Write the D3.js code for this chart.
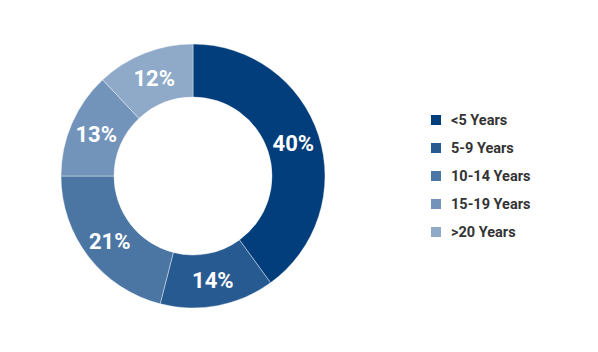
<!DOCTYPE html>
<html>
<head>
<meta charset="utf-8">
<script src="https://cdn.jsdelivr.net/npm/d3@7"></script>
<style>
  html, body { margin: 0; padding: 0; background: #fff; }
  svg { display: block; font-family: Roboto, "Open Sans", sans-serif; }
</style>
</head>
<body>
<div id="chart"></div>
<script>
// datos del gráfico
const categorias = ['<5 Years', '5-9 Years', '10-14 Years', '15-19 Years', '>20 Years'];
const valores = [40, 14, 21, 13, 12];
const colores = ['#023d7c', '#275a91', '#4b76a3', '#7293ba', '#8fa9c8'];

const width = 598, height = 352;
const cx = 193, cy = 176;
const rExt = 132, rInt = 79;

const svg = d3.select('#chart').append('svg')
    .attr('width', width).attr('height', height);

const color = d3.scaleOrdinal().domain(categorias).range(colores);

const pie = d3.pie().sort(null).value(d => d.valor);
const arc = d3.arc().innerRadius(rInt).outerRadius(rExt);

const datos = categorias.map((c, i) => ({ cat: c, valor: valores[i] }));
const arcos = pie(datos);

const g = svg.append('g').attr('transform', `translate(${cx},${cy})`);

// rebanadas
g.selectAll('path').data(arcos).enter().append('path')
    .attr('d', arc)
    .attr('fill', d => color(d.data.cat))
    .attr('stroke', '#ffffff').attr('stroke-width', 0.4);

// porcentajes
g.selectAll('text').data(arcos).enter().append('text')
    .attr('transform', d => `translate(${arc.centroid(d)})`)
    .attr('text-anchor', 'middle').attr('dy', '0.36em')
    .attr('fill', '#ffffff').attr('font-weight', 700).attr('font-size', '22px')
    .text(d => d.data.valor + '%');

// leyenda
const leyenda = svg.append('g').attr('transform', 'translate(431,120)');
const items = leyenda.selectAll('g').data(categorias).enter().append('g')
    .attr('transform', (d, i) => `translate(0,${i * 28})`);

items.append('rect')
    .attr('x', 0).attr('y', -5).attr('width', 10).attr('height', 10)
    .attr('fill', d => color(d));

items.append('text')
    .attr('x', 20).attr('dy', '0.36em')
    .attr('fill', '#333333').attr('font-weight', 700).attr('font-size', '14.5px')
    .text(d => d);
</script>
</body>
</html>
